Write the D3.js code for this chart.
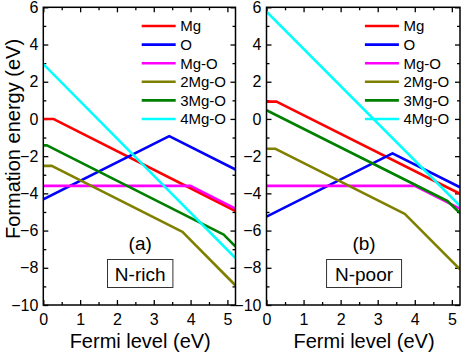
<!DOCTYPE html>
<html>
<head>
<meta charset="utf-8">
<script src="https://cdn.jsdelivr.net/npm/d3@7/dist/d3.min.js"></script>
<style>
  html, body { margin: 0; padding: 0; background: #fff; }
  svg { display: block; font-family: "Liberation Sans", Arial, sans-serif; }
</style>
</head>
<body>
<svg id="chart" width="474" height="355"></svg>
<script>
// ---- Data ----
const seriesNames = ["Mg", "O", "Mg-O", "2Mg-O", "3Mg-O", "4Mg-O"];
const seriesColors = ["#ff0000", "#0000ff", "#ff00ff", "#808000", "#008000", "#00ffff"];
const xMax = 5.22;
const xTicks = [0, 1, 2, 3, 4, 5];
const yTicks = [-10, -8, -6, -4, -2, 0, 2, 4, 6];

// N-rich panel (a): [Fermi level, formation energy]
const richMg    = [[0, 0], [0.27, 0], [5.22, -4.95]];
const richO     = [[0, -4.32], [3.42, -0.92], [5.22, -2.72]];
const richMgO   = [[0, -3.6], [4.0, -3.6], [5.22, -4.82]];
const rich2MgO  = [[0, -2.52], [0.23, -2.52], [3.78, -6.07], [5.22, -8.95]];
const rich3MgO  = [[0, -1.42], [0.1, -1.42], [4.9, -6.22], [5.22, -6.86]];
const rich4MgO  = [[0, 2.95], [5.22, -7.48]];

// N-poor panel (b)
const poorMg    = [[0, 0.93], [0.27, 0.93], [5.22, -4.02]];
const poorO     = [[0, -5.25], [3.4, -1.85], [5.22, -3.67]];
const poorMgO   = [[0, -3.6], [4.0, -3.6], [5.22, -4.82]];
const poor2MgO  = [[0, -1.6], [0.23, -1.6], [3.73, -5.1], [5.22, -8.08]];
const poor3MgO  = [[0, 0.47], [4.88, -4.41], [5.22, -5.06]];
const poor4MgO  = [[0, 5.77], [5.22, -4.67]];

const panels = [
  { left: 43.3, right: 235.5, tag: "(a)", cond: "N-rich",
    series: [richMg, richO, richMgO, rich2MgO, rich3MgO, rich4MgO] },
  { left: 266.5, right: 460, tag: "(b)", cond: "N-poor",
    series: [poorMg, poorO, poorMgO, poor2MgO, poor3MgO, poor4MgO] }
];

const plotTop = 7.3, plotBottom = 305;
const svg = d3.select("#chart");

const y = d3.scaleLinear().domain([-10, 6]).range([plotBottom, plotTop]);

panels.forEach((p, pi) => {
  const x = d3.scaleLinear().domain([0, xMax]).range([p.left, p.right]);
  const g = svg.append("g");
  const W = p.right - p.left, H = plotBottom - plotTop;

  const xMinor = d3.range(0.5, 5.01, 1);
  const yMinor = d3.range(-9, 6, 2);

  function styleAxis(sel) {
    sel.select(".domain").remove();
    sel.selectAll(".tick line").attr("stroke", "#000").attr("stroke-width", 1.3);
    sel.selectAll("text").attr("font-size", 16).attr("fill", "#000")
       .attr("font-family", "'Liberation Sans', Arial, sans-serif");
  }

  // bottom
  g.append("g").attr("transform", `translate(0,${plotBottom})`)
    .call(d3.axisBottom(x).tickValues(xTicks).tickSize(-5).tickPadding(9).tickFormat(d3.format("d")))
    .call(styleAxis);
  g.append("g").attr("transform", `translate(0,${plotBottom})`)
    .call(d3.axisBottom(x).tickValues(xMinor).tickSize(-3).tickFormat(""))
    .call(styleAxis);
  // top
  g.append("g").attr("transform", `translate(0,${plotTop})`)
    .call(d3.axisTop(x).tickValues(xTicks).tickSize(-5).tickFormat(""))
    .call(styleAxis);
  g.append("g").attr("transform", `translate(0,${plotTop})`)
    .call(d3.axisTop(x).tickValues(xMinor).tickSize(-3).tickFormat(""))
    .call(styleAxis);
  // left
  g.append("g").attr("transform", `translate(${p.left},0)`)
    .call(d3.axisLeft(y).tickValues(yTicks).tickSize(-5).tickPadding(5).tickFormat(d3.format("d")))
    .call(styleAxis);
  g.append("g").attr("transform", `translate(${p.left},0)`)
    .call(d3.axisLeft(y).tickValues(yMinor).tickSize(-3).tickFormat(""))
    .call(styleAxis);
  // right
  g.append("g").attr("transform", `translate(${p.right},0)`)
    .call(d3.axisRight(y).tickValues(yTicks).tickSize(-5).tickFormat(""))
    .call(styleAxis);
  g.append("g").attr("transform", `translate(${p.right},0)`)
    .call(d3.axisRight(y).tickValues(yMinor).tickSize(-3).tickFormat(""))
    .call(styleAxis);

  // data lines
  const clipId = "clip" + pi;
  svg.append("clipPath").attr("id", clipId).append("rect")
    .attr("x", p.left).attr("y", plotTop).attr("width", W).attr("height", H);
  const line = d3.line().x(d => x(d[0])).y(d => y(d[1]));
  const lg = g.append("g").attr("clip-path", `url(#${clipId})`);
  p.series.forEach((s, i) => {
    lg.append("path").datum(s).attr("d", line)
      .attr("fill", "none").attr("stroke", seriesColors[i])
      .attr("stroke-width", 2.6).attr("stroke-linejoin", "round");
  });

  // frame
  g.append("rect").attr("x", p.left).attr("y", plotTop).attr("width", W).attr("height", H)
    .attr("fill", "none").attr("stroke", "#000").attr("stroke-width", 1.5);

  // legend
  const legX = p.left + 98.4;
  seriesNames.forEach((name, i) => {
    const cy = 26 + i * 18.6;
    g.append("line").attr("x1", legX).attr("x2", legX + 34).attr("y1", cy).attr("y2", cy)
      .attr("stroke", seriesColors[i]).attr("stroke-width", 2.6);
    g.append("text").attr("x", legX + 38.5).attr("y", cy + 5.3)
      .attr("font-size", 15).attr("fill", "#000").text(name);
  });

  // panel tag and condition box
  const cx = (p.left + p.right) / 2 + 0.8;
  g.append("text").attr("x", cx).attr("y", 250).attr("text-anchor", "middle")
    .attr("font-size", 19).attr("fill", "#000").text(p.tag);
  const bw = p.cond === "N-rich" ? 65.4 : 75;
  g.append("rect").attr("x", cx - bw / 2).attr("y", 259.5).attr("width", bw).attr("height", 28)
    .attr("fill", "#fff").attr("stroke", "#333").attr("stroke-width", 1);
  g.append("text").attr("x", cx).attr("y", 280.5).attr("text-anchor", "middle")
    .attr("font-size", 19).attr("fill", "#000").text(p.cond);

  // x title
  g.append("text").attr("x", cx).attr("y", 348).attr("text-anchor", "middle")
    .attr("font-size", 20).attr("fill", "#000").text("Fermi level (eV)");
});

// y title
svg.append("text").attr("transform", "translate(20,139) rotate(-90)")
  .attr("text-anchor", "middle").attr("font-size", 20).attr("fill", "#000")
  .text("Formation energy (eV)");
</script>
</body>
</html>
